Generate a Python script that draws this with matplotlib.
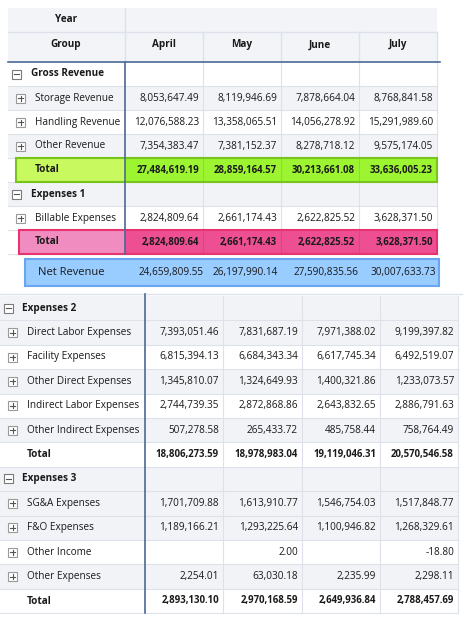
import matplotlib
matplotlib.use("Agg")
import matplotlib.pyplot as plt
from matplotlib.patches import Rectangle

months = ["April", "May", "June", "July"]
top_rows = [
    ("group", "Gross Revenue", None),
    ("item", "Storage Revenue", ["8,053,647.49", "8,119,946.69", "7,878,664.04", "8,768,841.58"]),
    ("item", "Handling Revenue", ["12,076,588.23", "13,358,065.51", "14,056,278.92", "15,291,989.60"]),
    ("item", "Other Revenue", ["7,354,383.47", "7,381,152.37", "8,278,718.12", "9,575,174.05"]),
    ("total_g", "Total", ["27,484,619.19", "28,859,164.57", "30,213,661.08", "33,636,005.23"]),
    ("group", "Expenses 1", None),
    ("item", "Billable Expenses", ["2,824,809.64", "2,661,174.43", "2,622,825.52", "3,628,371.50"]),
    ("total_p", "Total", ["2,824,809.64", "2,661,174.43", "2,622,825.52", "3,628,371.50"]),
]
net_label = "Net Revenue"
net_values = ["24,659,809.55", "26,197,990.14", "27,590,835.56", "30,007,633.73"]
bottom_rows = [
    ("group", "Expenses 2", None),
    ("item", "Direct Labor Expenses", ["7,393,051.46", "7,831,687.19", "7,971,388.02", "9,199,397.82"]),
    ("item", "Facility Expenses", ["6,815,394.13", "6,684,343.34", "6,617,745.34", "6,492,519.07"]),
    ("item", "Other Direct Expenses", ["1,345,810.07", "1,324,649.93", "1,400,321.86", "1,233,073.57"]),
    ("item", "Indirect Labor Expenses", ["2,744,739.35", "2,872,868.86", "2,643,832.65", "2,886,791.63"]),
    ("item", "Other Indirect Expenses", ["507,278.58", "265,433.72", "485,758.44", "758,764.49"]),
    ("total", "Total", ["18,806,273.59", "18,978,983.04", "19,119,046.31", "20,570,546.58"]),
    ("group", "Expenses 3", None),
    ("item", "SG&A Expenses", ["1,701,709.88", "1,613,910.77", "1,546,754.03", "1,517,848.77"]),
    ("item", "F&O Expenses", ["1,189,166.21", "1,293,225.64", "1,100,946.82", "1,268,329.61"]),
    ("item", "Other Income", ["", "2.00", "", "-18.80"]),
    ("item", "Other Expenses", ["2,254.01", "63,030.18", "2,235.99", "2,298.11"]),
    ("total", "Total", ["2,893,130.10", "2,970,168.59", "2,649,936.84", "2,788,457.69"]),
]

W, H = 467, 621
fig = plt.figure(figsize=(W / 100, H / 100), dpi=100)
ax = fig.add_axes([0, 0, 1, 1])
ax.set_xlim(0, W); ax.set_ylim(H, 0); ax.axis("off")
plt.rcParams["font.family"] = ["Open Sans", "DejaVu Sans"]
TXT = "#1a1a1a"; GRID = "#dde2ea"; HDR = "#f2f4f8"; ALT = "#f2f3f7"; DARK = "#4a6a96"
FS = 7.2
FSB = 6.9

def rect(x, y, w, h, fc, ec="none", lw=0.8, z=1):
    ax.add_patch(Rectangle((x, y), w, h, facecolor=fc, edgecolor=ec, lw=lw, zorder=z))

def box_icon(x, yc, minus):
    s = 9
    rect(x, yc - s / 2, s, s, "white", "#7a7a7a" if minus else "#9a9a9a", 0.8, 4)
    ax.plot([x + 2, x + s - 2], [yc, yc], color="#555", lw=0.8, zorder=5)
    if not minus:
        ax.plot([x + s / 2, x + s / 2], [yc - 2.5, yc + 2.5], color="#555", lw=0.8, zorder=5)

# ---- top table ----
cx = [8, 125, 203, 281, 359, 437]
rect(8, 8, 429, 54, HDR)
ax.plot([8, 437], [32, 32], color=GRID, lw=1, zorder=2)
ax.text(66, 20, "Year", ha="center", va="center", fontsize=FS, weight="bold", color=TXT, zorder=6)
ax.text(66, 45, "Group", ha="center", va="center", fontsize=FS, weight="bold", color=TXT, zorder=6)
for i, m in enumerate(months):
    ax.text((cx[i + 1] + cx[i + 2]) / 2, 45, m, ha="center", va="center", fontsize=FS, weight="bold", color=TXT, zorder=6)
ax.plot([125, 125], [8, 62], color=GRID, lw=1, zorder=2)
for x in cx[2:]:
    ax.plot([x, x], [32, 62], color=GRID, lw=1, zorder=2)
ax.plot([8, 440], [62, 62], color=DARK, lw=1.2, zorder=3)
rh = 24
for r, (kind, label, vals) in enumerate(top_rows):
    y0 = 62 + r * rh; yc = y0 + rh / 2
    if r % 2 == 1 and kind == "item":
        rect(8, y0, 429, rh, ALT)
    if kind == "group":
        rect(8, y0, 429, rh, ALT if r else "white")
        box_icon(12, yc, True)
        ax.text(31, yc, label, ha="left", va="center", fontsize=FS, weight="bold", color=TXT, zorder=6)
    elif kind == "item":
        box_icon(16, yc, False)
        ax.text(35, yc, label, ha="left", va="center", fontsize=FS, color=TXT, zorder=6)
    else:
        if kind == "total_g":
            lc, vc, ec = "#c8f95f", "#9cf530", "#77c41b"; lx = 16
        else:
            lc, vc, ec = "#f08cc0", "#ee4f93", "#e8336f"; lx = 19
        rect(lx, y0, 125 - lx, rh, lc, z=2)
        rect(125, y0, 312, rh, vc, z=2)
        rect(lx, y0, 437 - lx, rh, "none", ec, 1.5, z=3)
        ax.text(35, yc, label, ha="left", va="center", fontsize=FS, weight="bold", color=TXT, zorder=6)
    if vals:
        for i, v in enumerate(vals):
            ax.text(cx[i + 2] - 4, yc, v, ha="right", va="center",
                    fontsize=FSB if kind != "item" else FS,
                    weight="bold" if kind != "item" else "normal", color=TXT, zorder=6)
    ax.plot([8, 437], [y0 + rh, y0 + rh], color=GRID, lw=0.8, zorder=2)
    for x in cx[2:]:
        ax.plot([x, x], [y0, y0 + rh], color=GRID if kind not in ("total_g", "total_p") else "#00000018", lw=0.8, zorder=2.5)
ax.plot([125, 125], [62, 62 + rh * len(top_rows)], color=DARK, lw=1.2, zorder=4)
# net revenue
rect(25, 259, 414, 27, "#99ccff", "#6aa5f0", 1.5, 2)
ax.text(38, 272.5, net_label, ha="left", va="center", fontsize=8, color=TXT, zorder=6)
nx = [204, 278, 359, 436]
for i, v in enumerate(net_values):
    ax.text(nx[i], 272.5, v, ha="right", va="center", fontsize=FS, color=TXT, zorder=6)

# ---- bottom table ----
bx = [0, 145, 223, 302, 380, 458]
ax.plot([0, 462], [294, 294], color=GRID, lw=1)
rh2 = 24.4
for r, (kind, label, vals) in enumerate(bottom_rows):
    y0 = 296 + r * rh2; yc = y0 + rh2 / 2
    if kind == "group" or (r % 2 == 1 and kind == "item") or (kind == "item" and r in (8, 11)):
        rect(0, y0, 458, rh2, ALT)
    if kind == "group":
        box_icon(4, yc, True)
        ax.text(22, yc, label, ha="left", va="center", fontsize=FS, weight="bold", color=TXT, zorder=6)
    elif kind == "item":
        box_icon(8, yc, False)
        ax.text(27, yc, label, ha="left", va="center", fontsize=FS, color=TXT, zorder=6)
    else:
        ax.text(27, yc, label, ha="left", va="center", fontsize=FS, weight="bold", color=TXT, zorder=6)
    if vals:
        for i, v in enumerate(vals):
            ax.text(bx[i + 2] - 4, yc, v, ha="right", va="center",
                    fontsize=FSB if kind == "total" else FS,
                    weight="bold" if kind == "total" else "normal", color=TXT, zorder=6)
    ax.plot([0, 458], [y0 + rh2, y0 + rh2], color=GRID, lw=0.8, zorder=2)
    for x in bx[2:]:
        ax.plot([x, x], [y0, y0 + rh2], color=GRID, lw=0.8, zorder=2)
ax.plot([145, 145], [294, 296 + rh2 * len(bottom_rows)], color=DARK, lw=1.2, zorder=4)

fig.savefig("out.png", dpi=100, facecolor="white")
